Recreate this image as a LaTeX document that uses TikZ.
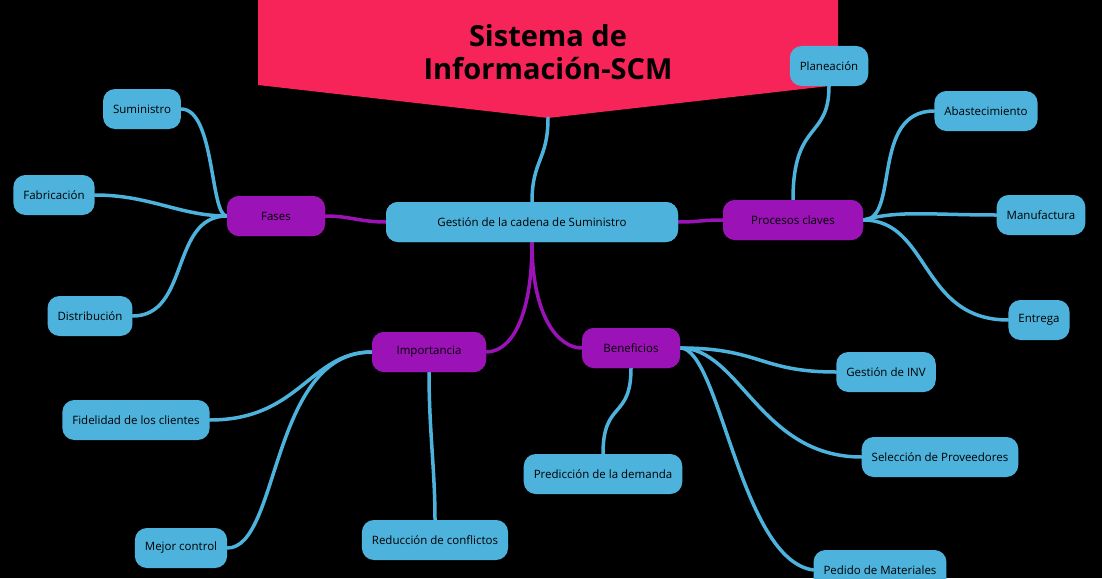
\documentclass[tikz,border=0pt]{standalone}
\usepackage{fontspec}
\setmainfont{Open Sans}
\begin{document}
\begin{tikzpicture}[x=1pt,y=-1pt,
  bl/.style={fill=cblue,rounded corners=12pt,minimum height=40pt,inner xsep=10pt,font=\fontsize{11.5}{13}\selectfont\bfseries\mdseries},
  pu/.style={fill=cpur,rounded corners=12pt,minimum height=40pt,inner xsep=10pt,font=\fontsize{11.5}{13}\selectfont},
  be/.style={draw=cblue,line width=3.5pt,line cap=round},
  pe/.style={draw=cpur,line width=3.5pt,line cap=round}]
\definecolor{cblue}{HTML}{4DB3DC}
\definecolor{cpur}{HTML}{9B12B6}
\definecolor{cred}{HTML}{F7245A}
\fill[black] (0,0) rectangle (1102,578);
\useasboundingbox (0,0) rectangle (1102,578);
% title
\fill[cred] (258,0) -- (258,85) -- (548,118) -- (838,85) -- (838,0) -- cycle;
\node (title) at (548,52) [align=center,font=\fontsize{29}{33}\selectfont\bfseries] {Sistema de\\Información-SCM};
% main nodes
\node[bl,minimum width=292pt] (g) at (532,222) {Gestión de la cadena de Suministro};
\node[pu,minimum width=98pt] (f) at (276,216) {Fases};
\node[pu,minimum width=140pt] (p) at (793,220) {Procesos claves};
\node[pu,minimum width=114pt] (i) at (429,352) {Importancia};
\node[pu,minimum width=98pt] (b) at (631,348) {Beneficios};
% leaves
\node[bl] (s1) at (142,109) {Suministro};
\node[bl] (s2) at (54,195) {Fabricación};
\node[bl] (s3) at (90,316) {Distribución};
\node[bl] (p1) at (829,66) {Planeación};
\node[bl] (p2) at (986,111) {Abastecimiento};
\node[bl] (p3) at (1041,215) {Manufactura};
\node[bl] (p4) at (1039,320) {Entrega};
\node[bl] (i1) at (136,420) {Fidelidad de los clientes};
\node[bl] (i2) at (181,548) {Mejor control};
\node[bl] (i3) at (435,540) {Reducción de conflictos};
\node[bl] (b1) at (603,474) {Predicción de la demanda};
\node[bl] (b2) at (886,372) {Gestión de INV};
\node[bl] (b3) at (940,457) {Selección de Proveedores};
\node[bl] (b4) at (880,570) {Pedido de Materiales};
% connectors
\begin{scope}[on background layer/.style={}]
\end{scope}
\draw[be] (title.south) ++(0,62) coordinate (tb);
\draw[be] (548,118) .. controls (548,160) and (532,160) .. (g.north);
\draw[pe] (g.west) .. controls (360,222) and (350,216) .. (f.east);
\draw[pe] (g.east) .. controls (700,222) and (700,220) .. (p.west);
\draw[pe] (g.south) .. controls (532,320) and (510,352) .. (i.east);
\draw[pe] (g.south) .. controls (532,320) and (560,348) .. (b.west);
\draw[be] (f.west) .. controls (210,216) and (215,109) .. (s1.east);
\draw[be] (f.west) .. controls (180,216) and (150,195) .. (s2.east);
\draw[be] (f.west) .. controls (170,216) and (190,316) .. (s3.east);
\draw[be] (p.north) .. controls (793,120) and (829,140) .. (p1.south);
\draw[be] (p.east) .. controls (900,220) and (870,111) .. (p2.west);
\draw[be] (p.east) .. controls (900,210) and (930,215) .. (p3.west);
\draw[be] (p.east) .. controls (930,220) and (920,320) .. (p4.west);
\draw[be] (i.west) .. controls (310,352) and (300,420) .. (i1.east);
\draw[be] (i.west) .. controls (270,352) and (280,548) .. (i2.east);
\draw[be] (i.south) .. controls (429,430) and (435,470) .. (i3.north);
\draw[be] (b.south) .. controls (631,420) and (603,400) .. (b1.north);
\draw[be] (b.east) .. controls (760,348) and (760,372) .. (b2.west);
\draw[be] (b.east) .. controls (740,348) and (760,457) .. (b3.west);
\draw[be] (b.east) .. controls (720,348) and (740,560) .. (b4.west);
% redraw nodes on top
\node[bl,minimum width=292pt] at (g) {Gestión de la cadena de Suministro};
\node[pu,minimum width=98pt] at (f) {Fases};
\node[pu,minimum width=140pt] at (p) {Procesos claves};
\node[pu,minimum width=114pt] at (i) {Importancia};
\node[pu,minimum width=98pt] at (b) {Beneficios};
\end{tikzpicture}
\end{document}
